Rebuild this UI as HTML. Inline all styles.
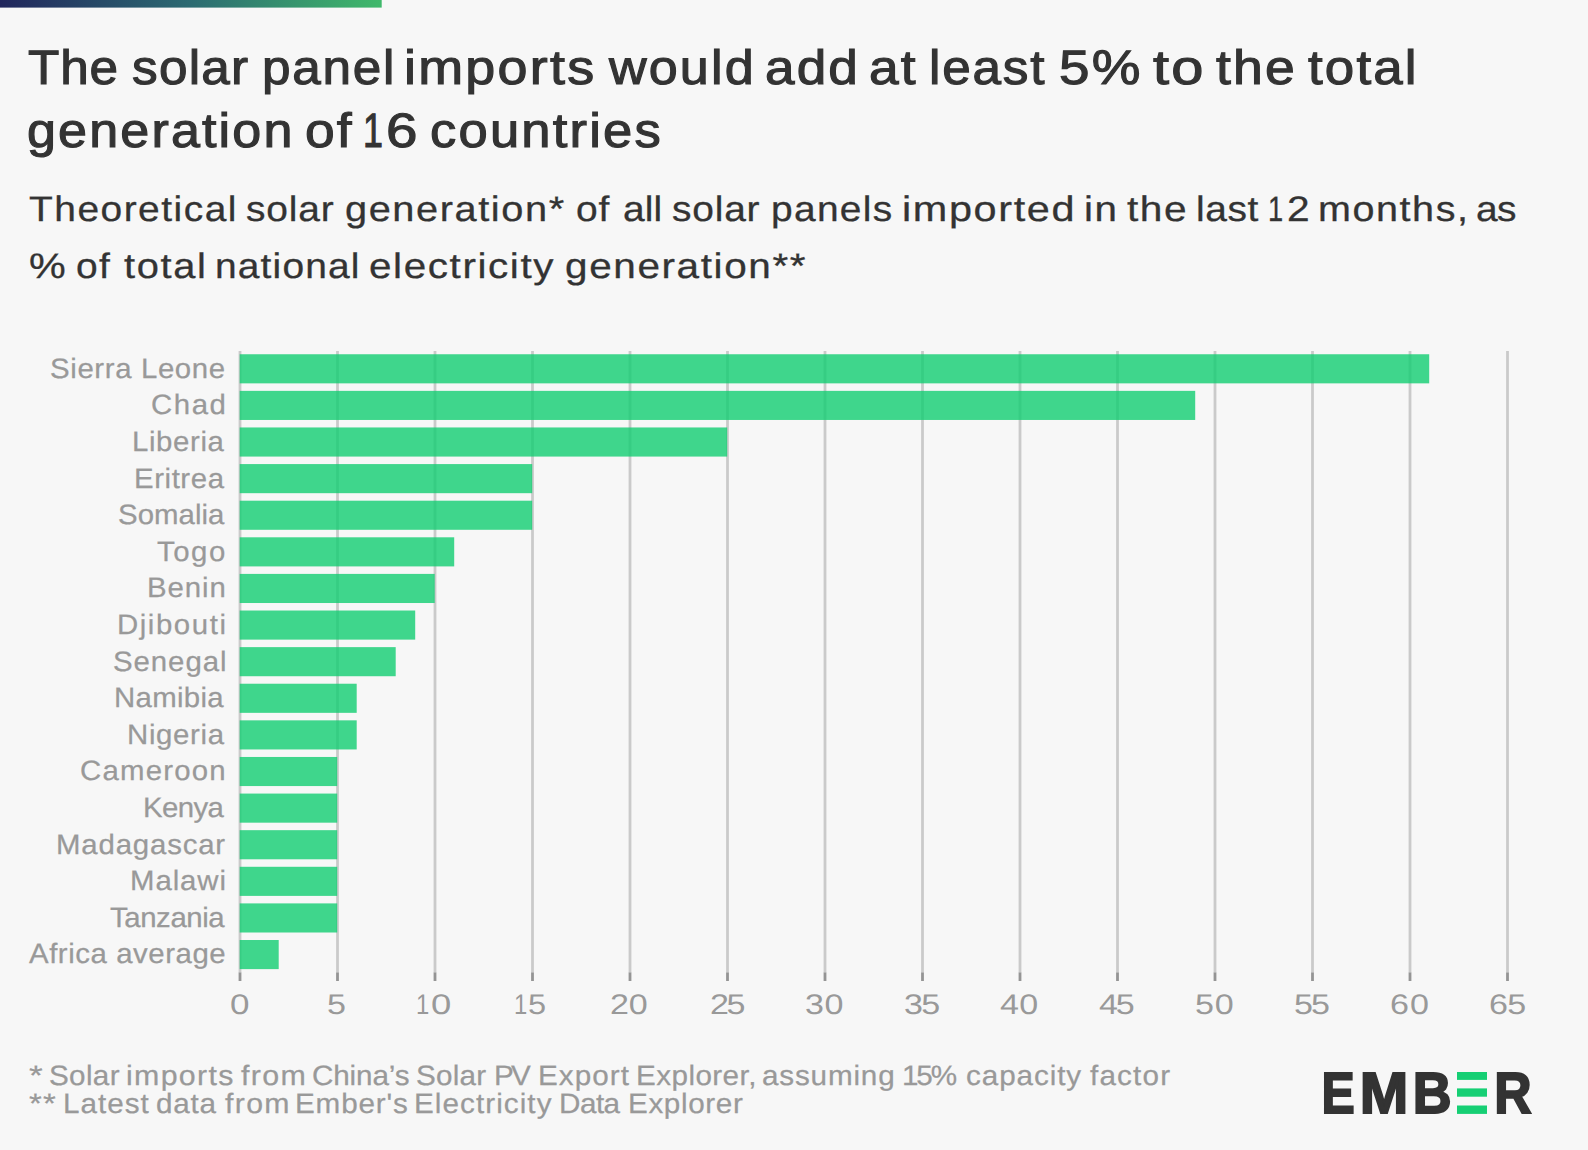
<!DOCTYPE html>
<html lang="en">
<head>
<meta charset="utf-8">
<title>The solar panel imports would add at least 5% to the total generation of 16 countries</title>
<style>
html,body{margin:0;padding:0;}
body{width:1588px;height:1150px;background:#f7f7f7;position:relative;overflow:hidden;font-family:"Liberation Sans",Arial,sans-serif;}
.t{position:absolute;margin:0;white-space:pre;line-height:1em;transform-origin:0 0;text-rendering:geometricPrecision;font-weight:normal;}
.t span{display:inline-block;white-space:pre;transform-origin:0 0;}
.topbar{position:absolute;left:0;top:0;}
h1,p{margin:0;font-size:inherit;font-weight:inherit;}
.title{color:#333;font-size:48.4px;-webkit-text-stroke:1.1px #333;}
.sub{color:#333;font-size:35.4px;-webkit-text-stroke:0.3px #333;}
.lab,.ax,.ft{color:#999;}
.lab,.ft{-webkit-text-stroke:0.25px #999;}
.lab{font-size:28.0px;}
.ax{font-size:28.4px;}
.ft{font-size:28.0px;}
</style>
</head>
<body>
<svg class="topbar" width="400" height="10" viewBox="0 0 400 10"><defs><linearGradient id="tg" x1="0" y1="0" x2="381.7" y2="0" gradientUnits="userSpaceOnUse"><stop offset="0" stop-color="#21265c"/><stop offset="0.5" stop-color="#2c6b72"/><stop offset="1" stop-color="#40b96b"/></linearGradient></defs><rect x="0" y="0" width="381.7" height="7.6" fill="url(#tg)"/></svg>
<header>
<h1><span class="t title" style="left:27.93px;top:44px"><span style="width:103.65px;letter-spacing:0.75px;transform:scaleX(1.0600)">The </span><span style="width:130.01px;letter-spacing:1.16px;transform:scaleX(1.0600)">solar </span><span style="width:142.72px;letter-spacing:1.63px;transform:scaleX(1.0600)">panel </span><span style="width:205.00px;letter-spacing:2.01px;transform:scaleX(1.1135)">imports </span><span style="width:156.20px;letter-spacing:1.99px;transform:scaleX(1.0758)">would </span><span style="width:103.40px;letter-spacing:1.92px;transform:scaleX(1.0978)">add </span><span style="width:60.61px;letter-spacing:1.95px;transform:scaleX(1.1012)">at </span><span style="width:129.12px;letter-spacing:1.67px;transform:scaleX(1.0600)">least </span><span style="width:94.86px;letter-spacing:1.91px;transform:scaleX(1.1330)">5% </span><span style="width:62.73px;letter-spacing:1.82px;transform:scaleX(1.1930)">to </span><span style="width:91.50px;letter-spacing:1.97px;transform:scaleX(1.1060)">the </span><span style="letter-spacing:1.98px;transform:scaleX(1.0928)">total</span></span><span class="t title" style="left:27.49px;top:107px"><span style="width:277.65px;letter-spacing:2.00px;transform:scaleX(1.0757)">generation </span><span style="width:58.04px;letter-spacing:1.92px;transform:scaleX(1.1035)">of </span><span style="width:23.09px;letter-spacing:0.00px;transform:scaleX(0.7420)">1</span><span style="width:43.56px;letter-spacing:0.00px;transform:scaleX(1.1703)">6 </span><span style="letter-spacing:2.01px;transform:scaleX(1.0863)">countries</span></span></h1>
<p><span class="t sub" style="left:28.69px;top:192px"><span style="width:217.03px;letter-spacing:1.35px;transform:scaleX(1.1000)">Theoretical </span><span style="width:99.24px;letter-spacing:0.77px;transform:scaleX(1.1000)">solar </span><span style="width:231.00px;letter-spacing:1.40px;transform:scaleX(1.1234)">generation* </span><span style="width:46.76px;letter-spacing:0.76px;transform:scaleX(1.1000)">of </span><span style="width:48.89px;letter-spacing:0.13px;transform:scaleX(1.1000)">all </span><span style="width:99.01px;letter-spacing:0.72px;transform:scaleX(1.1000)">solar </span><span style="width:131.39px;letter-spacing:1.17px;transform:scaleX(1.1000)">panels </span><span style="width:181.66px;letter-spacing:1.39px;transform:scaleX(1.1697)">imported </span><span style="width:43.43px;letter-spacing:1.30px;transform:scaleX(1.1390)">in </span><span style="width:69.11px;letter-spacing:1.35px;transform:scaleX(1.1488)">the </span><span style="width:72.08px;letter-spacing:0.56px;transform:scaleX(1.1000)">last </span><span style="width:18.30px;letter-spacing:0.00px;transform:scaleX(0.7700)">1</span><span style="width:31.34px;letter-spacing:0.00px;transform:scaleX(1.1508)">2 </span><span style="width:158.58px;letter-spacing:1.41px;transform:scaleX(1.1163)">months, </span><span style="letter-spacing:-0.60px;transform:scaleX(1.1000)">as</span></span><span class="t sub" style="left:28.67px;top:249px"><span style="width:47.29px;letter-spacing:0.00px;transform:scaleX(1.1660)">% </span><span style="width:47.76px;letter-spacing:1.18px;transform:scaleX(1.1000)">of </span><span style="width:91.45px;letter-spacing:1.44px;transform:scaleX(1.1253)">total </span><span style="width:154.25px;letter-spacing:1.05px;transform:scaleX(1.1000)">national </span><span style="width:195.41px;letter-spacing:1.40px;transform:scaleX(1.1423)">electricity </span><span style="letter-spacing:1.41px;transform:scaleX(1.1438)">generation**</span></span></p>
</header>
<main class="chart">
<svg style="position:absolute;left:0;top:340px" width="1588" height="650" viewBox="0 340 1588 650">
<g fill="#cacaca">
<rect x="238.60" y="351" width="2.8" height="622"/>
<rect x="336.10" y="351" width="2.8" height="622"/>
<rect x="433.60" y="351" width="2.8" height="622"/>
<rect x="531.10" y="351" width="2.8" height="622"/>
<rect x="628.60" y="351" width="2.8" height="622"/>
<rect x="726.10" y="351" width="2.8" height="622"/>
<rect x="823.60" y="351" width="2.8" height="622"/>
<rect x="921.10" y="351" width="2.8" height="622"/>
<rect x="1018.60" y="351" width="2.8" height="622"/>
<rect x="1116.10" y="351" width="2.8" height="622"/>
<rect x="1213.60" y="351" width="2.8" height="622"/>
<rect x="1311.10" y="351" width="2.8" height="622"/>
<rect x="1408.60" y="351" width="2.8" height="622"/>
<rect x="1506.10" y="351" width="2.8" height="622"/>
</g>
<g fill="#949494">
<rect x="238.60" y="972.6" width="2.8" height="8.4"/>
<rect x="336.10" y="972.6" width="2.8" height="8.4"/>
<rect x="433.60" y="972.6" width="2.8" height="8.4"/>
<rect x="531.10" y="972.6" width="2.8" height="8.4"/>
<rect x="628.60" y="972.6" width="2.8" height="8.4"/>
<rect x="726.10" y="972.6" width="2.8" height="8.4"/>
<rect x="823.60" y="972.6" width="2.8" height="8.4"/>
<rect x="921.10" y="972.6" width="2.8" height="8.4"/>
<rect x="1018.60" y="972.6" width="2.8" height="8.4"/>
<rect x="1116.10" y="972.6" width="2.8" height="8.4"/>
<rect x="1213.60" y="972.6" width="2.8" height="8.4"/>
<rect x="1311.10" y="972.6" width="2.8" height="8.4"/>
<rect x="1408.60" y="972.6" width="2.8" height="8.4"/>
<rect x="1506.10" y="972.6" width="2.8" height="8.4"/>
</g>
<g fill="#10cd70" fill-opacity="0.8">
<rect x="239.70" y="354.25" width="1189.50" height="29.1"/>
<rect x="239.70" y="390.86" width="955.50" height="29.1"/>
<rect x="239.70" y="427.47" width="487.50" height="29.1"/>
<rect x="239.70" y="464.08" width="292.50" height="29.1"/>
<rect x="239.70" y="500.69" width="292.50" height="29.1"/>
<rect x="239.70" y="537.30" width="214.50" height="29.1"/>
<rect x="239.70" y="573.91" width="195.00" height="29.1"/>
<rect x="239.70" y="610.52" width="175.50" height="29.1"/>
<rect x="239.70" y="647.13" width="156.00" height="29.1"/>
<rect x="239.70" y="683.74" width="117.00" height="29.1"/>
<rect x="239.70" y="720.35" width="117.00" height="29.1"/>
<rect x="239.70" y="756.96" width="97.50" height="29.1"/>
<rect x="239.70" y="793.57" width="97.50" height="29.1"/>
<rect x="239.70" y="830.18" width="97.50" height="29.1"/>
<rect x="239.70" y="866.79" width="97.50" height="29.1"/>
<rect x="239.70" y="903.40" width="97.50" height="29.1"/>
<rect x="239.70" y="940.01" width="39.00" height="29.1"/>
</g>
</svg>
<div class="t lab" style="left:50.22px;top:355px;letter-spacing:0.59px;transform:scaleX(1.0500)">Sierra Leone</div>
<div class="t lab" style="left:151.23px;top:391px;letter-spacing:1.47px;transform:scaleX(1.0500)">Chad</div>
<div class="t lab" style="left:132.13px;top:428px;letter-spacing:0.59px;transform:scaleX(1.0500)">Liberia</div>
<div class="t lab" style="left:134.33px;top:465px;letter-spacing:0.54px;transform:scaleX(1.0500)">Eritrea</div>
<div class="t lab" style="left:117.62px;top:501px;letter-spacing:0.04px;transform:scaleX(1.0500)">Somalia</div>
<div class="t lab" style="left:157.18px;top:538px;letter-spacing:1.43px;transform:scaleX(1.0500)">Togo</div>
<div class="t lab" style="left:147.13px;top:574px;letter-spacing:0.87px;transform:scaleX(1.0500)">Benin</div>
<div class="t lab" style="left:117.13px;top:611px;letter-spacing:1.48px;transform:scaleX(1.0500)">Djibouti</div>
<div class="t lab" style="left:112.62px;top:648px;letter-spacing:0.89px;transform:scaleX(1.0500)">Senegal</div>
<div class="t lab" style="left:114.33px;top:684px;letter-spacing:0.28px;transform:scaleX(1.0500)">Namibia</div>
<div class="t lab" style="left:127.13px;top:721px;letter-spacing:0.63px;transform:scaleX(1.0500)">Nigeria</div>
<div class="t lab" style="left:80.23px;top:757px;letter-spacing:1.14px;transform:scaleX(1.0500)">Cameroon</div>
<div class="t lab" style="left:143.43px;top:794px;letter-spacing:-0.61px;transform:scaleX(1.0500)">Kenya</div>
<div class="t lab" style="left:55.53px;top:831px;letter-spacing:0.78px;transform:scaleX(1.0500)">Madagascar</div>
<div class="t lab" style="left:130.33px;top:867px;letter-spacing:0.86px;transform:scaleX(1.0500)">Malawi</div>
<div class="t lab" style="left:109.58px;top:904px;letter-spacing:-0.41px;transform:scaleX(1.0500)">Tanzania</div>
<div class="t lab" style="left:28.94px;top:940px;letter-spacing:0.52px;transform:scaleX(1.0500)">Africa average</div>
<div class="t ax" style="left:230.02px;top:991px;letter-spacing:0.00px;transform:scaleX(1.2333)">0</div>
<div class="t ax" style="left:327.32px;top:991px;letter-spacing:0.00px;transform:scaleX(1.2013)">5</div>
<div class="t ax" style="left:415.58px;top:991px"><span style="width:14.98px;letter-spacing:0.00px;transform:scaleX(0.8400)">1</span><span style="letter-spacing:0.00px;transform:scaleX(1.2846)">0</span></div>
<div class="t ax" style="left:513.88px;top:991px"><span style="width:14.52px;letter-spacing:0.00px;transform:scaleX(0.8400)">1</span><span style="letter-spacing:0.00px;transform:scaleX(1.1468)">5</span></div>
<div class="t ax" style="left:610.32px;top:991px;letter-spacing:-0.16px;transform:scaleX(1.2000)">20</div>
<div class="t ax" style="left:709.62px;top:991px;letter-spacing:-2.09px;transform:scaleX(1.2000)">25</div>
<div class="t ax" style="left:805.06px;top:991px;letter-spacing:0.46px;transform:scaleX(1.2000)">30</div>
<div class="t ax" style="left:903.66px;top:991px;letter-spacing:-1.40px;transform:scaleX(1.2000)">35</div>
<div class="t ax" style="left:1000.13px;top:991px;letter-spacing:0.29px;transform:scaleX(1.2000)">40</div>
<div class="t ax" style="left:1099.43px;top:991px;letter-spacing:-1.75px;transform:scaleX(1.2000)">45</div>
<div class="t ax" style="left:1194.82px;top:991px;letter-spacing:0.65px;transform:scaleX(1.2000)">50</div>
<div class="t ax" style="left:1293.92px;top:991px;letter-spacing:-1.63px;transform:scaleX(1.2000)">55</div>
<div class="t ax" style="left:1390.04px;top:991px;letter-spacing:0.96px;transform:scaleX(1.2000)">60</div>
<div class="t ax" style="left:1488.84px;top:991px;letter-spacing:-0.52px;transform:scaleX(1.2000)">65</div>
</main>
<footer>
<p class="t ft" style="left:28.70px;top:1062px"><span style="width:20.62px;letter-spacing:0.00px;transform:scaleX(1.2576)">* </span><span style="width:76.27px;letter-spacing:0.30px;transform:scaleX(1.0600)">Solar </span><span style="width:115.12px;letter-spacing:1.22px;transform:scaleX(1.0836)">imports </span><span style="width:71.61px;letter-spacing:1.26px;transform:scaleX(1.0860)">from </span><span style="width:104.20px;letter-spacing:-0.15px;transform:scaleX(1.0600)">China’s </span><span style="width:77.78px;letter-spacing:0.22px;transform:scaleX(1.0600)">Solar </span><span style="width:43.40px;letter-spacing:-2.71px;transform:scaleX(1.0600)">PV </span><span style="width:98.50px;letter-spacing:0.97px;transform:scaleX(1.0600)">Export </span><span style="width:126.26px;letter-spacing:0.39px;transform:scaleX(1.0600)">Explorer, </span><span style="width:139.85px;letter-spacing:0.76px;transform:scaleX(1.0600)">assuming </span><span style="width:63.68px;letter-spacing:-2.03px;transform:scaleX(1.0600)">15% </span><span style="width:124.13px;letter-spacing:0.84px;transform:scaleX(1.0600)">capacity </span><span style="letter-spacing:1.10px;transform:scaleX(1.0600)">factor</span></p>
<p class="t ft" style="left:28.75px;top:1090px"><span style="width:34.05px;letter-spacing:1.13px;transform:scaleX(1.1702)">** </span><span style="width:93.51px;letter-spacing:0.94px;transform:scaleX(1.0600)">Latest </span><span style="width:68.71px;letter-spacing:0.69px;transform:scaleX(1.0600)">data </span><span style="width:70.39px;letter-spacing:1.23px;transform:scaleX(1.0808)">from </span><span style="width:118.80px;letter-spacing:0.78px;transform:scaleX(1.0600)">Ember&#x27;s </span><span style="width:145.20px;letter-spacing:0.99px;transform:scaleX(1.0600)">Electricity </span><span style="width:69.10px;letter-spacing:-0.50px;transform:scaleX(1.0600)">Data </span><span style="letter-spacing:0.58px;transform:scaleX(1.0600)">Explorer</span></p>
<svg class="logo" style="position:absolute;left:1300px;top:1050px" width="260" height="90" viewBox="1300 1050 260 90" aria-label="EMBER">
<g font-family="Liberation Sans, Arial, sans-serif" font-weight="bold" font-size="58.1" fill="#333" stroke="#333" stroke-width="2" style="text-rendering:geometricPrecision">
<text transform="translate(1321.57,1113) scale(0.8576,1)">E</text>
<text transform="translate(1359.8,1113) scale(1.003,1)">M</text>
<text transform="translate(1412.7,1113) scale(0.927,1)">B</text>
<text transform="translate(1494.34,1113) scale(0.891,1)">R</text>
</g>
<g fill="#16cf74"><title>E</title>
<rect x="1457" y="1072" width="30" height="7.9"/>
<rect x="1457" y="1088.4" width="30" height="8.3"/>
<rect x="1457" y="1105.5" width="30" height="8.4"/>
</g>
</svg>
</footer>
</body>
</html>
